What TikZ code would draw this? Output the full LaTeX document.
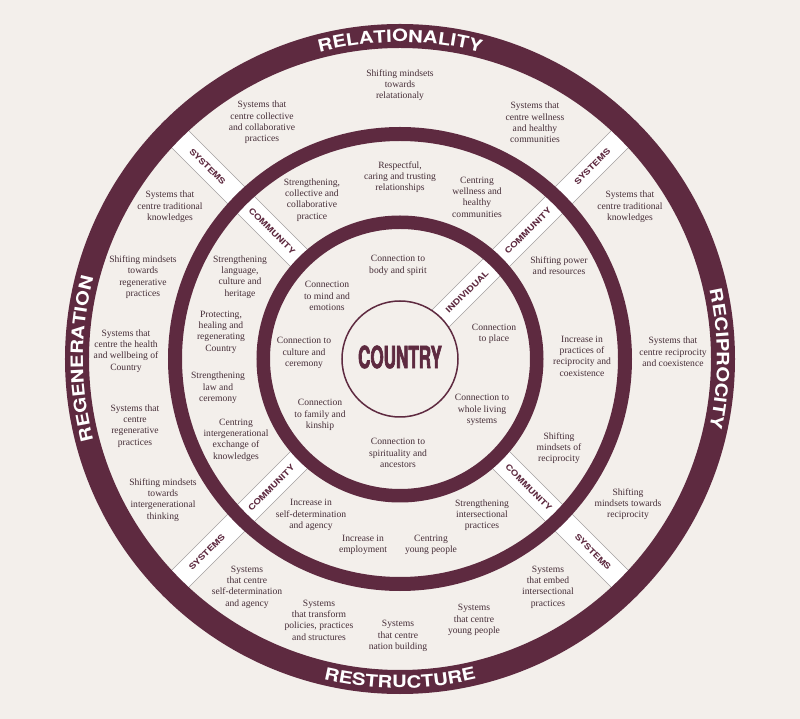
\documentclass[tikz,border=0pt]{standalone}
\usepackage{fontspec}
\setmainfont{Liberation Serif}
\newfontfamily\ringfont[FakeStretch=1.2]{TeX Gyre Heros}
\newfontfamily\bandfont[FakeStretch=1.25]{TeX Gyre Heros}
\newfontfamily\condfont[FakeStretch=0.56, BoldFeatures={FakeBold=2}]{TeX Gyre Heros}
\usetikzlibrary{decorations.text}
\definecolor{bg}{RGB}{243,239,235}
\definecolor{maroon}{RGB}{94,42,64}
\definecolor{txt}{RGB}{70,46,56}
\definecolor{edgegray}{RGB}{165,160,160}
\tikzset{
  lbl/.style={align=center, text=txt, font=\fontsize{9.6}{11.3}\selectfont, inner sep=0pt},
  bandlbl/.style={text=maroon, font=\bandfont\bfseries\fontsize{8}{9}\selectfont, inner sep=0pt},
  bandedge/.style={draw=edgegray, line width=0.6pt},
  ringout/.style={draw=maroon, line width=24pt},
  ringmid/.style={draw=maroon, line width=14pt},
  ringin/.style={draw=maroon, line width=13.5pt},
}
\begin{document}
\begin{tikzpicture}[x=1pt,y=1pt]
\useasboundingbox (-400,-360) rectangle (400,359);
\fill[bg] (-400,-360) rectangle (400,359);
% bands
\foreach \a/\r in {135/138, 45/50, -45/138, 225/138}{
  \begin{scope}[rotate=\a]
    \fill[white] (\r,-12) rectangle (318,12);
    \draw[bandedge] (\r,-12) -- (318,-12) (\r,12) -- (318,12);
  \end{scope}
}
% rings
\draw[ringout] (0,0) circle[radius=323];
\draw[ringmid] (0,0) circle[radius=225];
\draw[ringin] (0,0) circle[radius=136.75];
\filldraw[fill=bg, draw=maroon, line width=1.5pt] (0,0) circle[radius=58];
\node[text=maroon, font=\condfont\bfseries\fontsize{30.5}{31}\selectfont, inner sep=0pt] (country) at (0,2) {COUNTRY};
% ring texts
\path[decorate, decoration={text along path, text align=center, text color=white,
  text={|\ringfont\bfseries\fontsize{17}{17}\selectfont|RELATIONALITY}}]
  (120:317) arc[start angle=120, end angle=60, radius=317];
\path[decorate, decoration={text along path, text align=center, text color=white,
  text={|\ringfont\bfseries\fontsize{17}{17}\selectfont|REGENERATION}}]
  (215:317) arc[start angle=215, end angle=145, radius=317];
\path[decorate, decoration={text along path, text align=center, text color=white,
  text={|\ringfont\bfseries\fontsize{17}{17}\selectfont|RECIPROCITY}}]
  (35:317) arc[start angle=35, end angle=-35, radius=317];
\path[decorate, decoration={text along path, text align=center, text color=white,
  text={|\ringfont\bfseries\fontsize{17}{17}\selectfont|RESTRUCTURE}}]
  (240:329) arc[start angle=240, end angle=300, radius=329];
% band labels
\node[bandlbl, rotate=-45] (ulsys) at (135:272) {SYSTEMS};
\node[bandlbl, rotate=-45] (ulcom) at (135:181) {COMMUNITY};
\node[bandlbl, rotate=45] (ursys) at (45:272) {SYSTEMS};
\node[bandlbl, rotate=45] (urcom) at (45:181) {COMMUNITY};
\node[bandlbl, rotate=45] (urind) at (45:95) {INDIVIDUAL};
\node[bandlbl, rotate=-45] (lrsys) at (-45:273) {SYSTEMS};
\node[bandlbl, rotate=-45] (lrcom) at (-45:182) {COMMUNITY};
\node[bandlbl, rotate=45] (llsys) at (225:273) {SYSTEMS};
\node[bandlbl, rotate=45] (llcom) at (225:182) {COMMUNITY};
% outer section
\node[lbl] (o1) at (0,274) {Shifting mindsets\\towards\\relatationaly};
\node[lbl] (o2) at (-138,236.5) {Systems that\\centre collective\\and collaborative\\practices};
\node[lbl] (o3) at (135,236.5) {Systems that\\centre wellness\\and healthy\\communities};
\node[lbl] (o4) at (-230,152) {Systems that\\centre traditional\\knowledges};
\node[lbl] (o5) at (230,152) {Systems that\\centre traditional\\knowledges};
\node[lbl] (o6) at (-257,82) {Shifting mindsets\\towards\\regenerative\\practices};
\node[lbl] (o7) at (-274,8) {Systems that\\centre the health\\and wellbeing of\\Country};
\node[lbl] (o8) at (273,7) {Systems that\\centre reciprocity\\and coexistence};
\node[lbl] (o9) at (-265,-67) {Systems that\\centre\\regenerative\\practices};
\node[lbl] (o10) at (-237,-141) {Shifting mindsets\\towards\\intergenerational\\thinking};
\node[lbl] (o11) at (228,-145) {Shifting\\mindsets towards\\reciprocity};
\node[lbl] (o12) at (-153,-228) {Systems\\that centre\\self-determination\\and agency};
\node[lbl] (o13) at (-81,-261) {Systems\\that transform\\policies, practices\\and structures};
\node[lbl] (o14) at (-2,-277) {Systems\\that centre\\nation building};
\node[lbl] (o15) at (74,-261) {Systems\\that centre\\young people};
\node[lbl] (o16) at (148,-228) {Systems\\that embed\\intersectional\\practices};
% middle section
\node[lbl] (m1) at (0,182) {Respectful,\\caring and trusting\\relationships};
\node[lbl] (m2) at (-88,159) {Strengthening,\\collective and\\collaborative\\practice};
\node[lbl] (m3) at (77,162) {Centring\\wellness and\\healthy\\communities};
\node[lbl] (m4) at (-160,82) {Strengthening\\language,\\culture and\\heritage};
\node[lbl] (m5) at (159,93.5) {Shifting power\\and resources};
\node[lbl] (m6) at (-179,27) {Protecting,\\healing and\\regenerating\\Country};
\node[lbl] (m7) at (182,3) {Increase in\\practices of\\reciprocity and\\coexistence};
\node[lbl] (m8) at (-182,-29) {Strengthening\\law and\\ceremony};
\node[lbl] (m9) at (-164,-81) {Centring\\intergenerational\\exchange of\\knowledges};
\node[lbl] (m10) at (159,-89) {Shifting\\mindsets of\\reciprocity};
\node[lbl] (m11) at (-89,-156) {Increase in\\self-determination\\and agency};
\node[lbl] (m12) at (82,-156) {Strengthening\\intersectional\\practices};
\node[lbl] (m13) at (-37,-186) {Increase in\\employment};
\node[lbl] (m14) at (31,-186) {Centring\\young people};
% inner section
\node[lbl] (i1) at (-2,93.5) {Connection to\\body and spirit};
\node[lbl] (i2) at (-73,63) {Connection\\to mind and\\emotions};
\node[lbl] (i3) at (94,25.5) {Connection\\to place};
\node[lbl] (i4) at (-96,6) {Connection to\\culture and\\ceremony};
\node[lbl] (i5) at (-80,-56) {Connection\\to family and\\kinship};
\node[lbl] (i6) at (82,-51) {Connection to\\whole living\\systems};
\node[lbl] (i7) at (-2,-94) {Connection to\\spirituality and\\ancestors};
\end{tikzpicture}
\end{document}
